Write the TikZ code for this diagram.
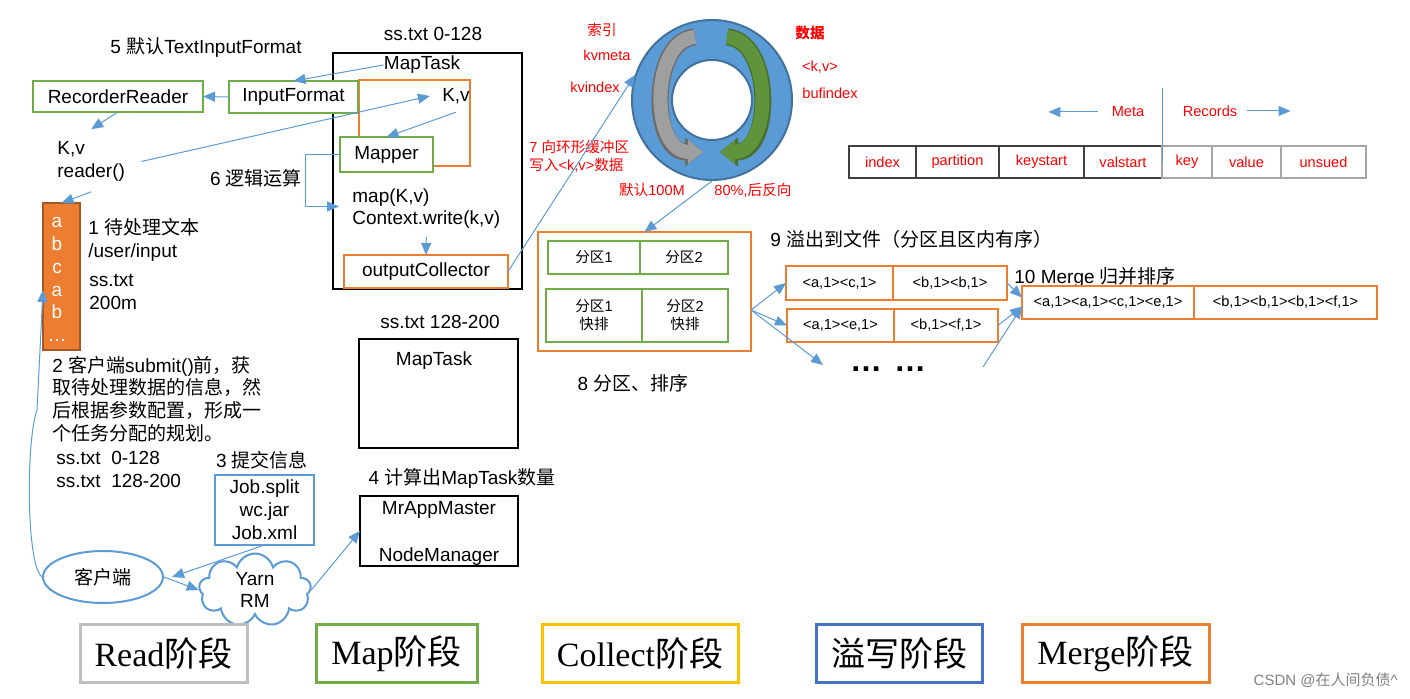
\documentclass[tikz,border=0pt]{standalone}
\usepackage{fontspec}
\setmainfont{Liberation Sans}
\newfontfamily\cjk{Noto Sans CJK SC}
\newfontfamily\serif{Liberation Serif}
\newcommand\zh[1]{{\cjk #1}}
\usetikzlibrary{arrows.meta,positioning,shapes.geometric,shapes.symbols}
\definecolor{lineblue}{HTML}{5B9BD5}
\definecolor{boxorange}{HTML}{ED7D31}
\definecolor{boxgreen}{HTML}{70AD47}
\definecolor{ringedge}{HTML}{41719C}
\definecolor{txtred}{HTML}{FF0000}
\definecolor{gold}{HTML}{FFC000}
\definecolor{legblue}{HTML}{4472C4}
\definecolor{leggray}{HTML}{BFBFBF}
\definecolor{tabdark}{HTML}{404040}
\definecolor{tablight}{HTML}{A6A6A6}
\tikzset{
  txt/.style={inner sep=0pt, font=\fontsize{9.5}{11.4}\selectfont},
  smalltxt/.style={inner sep=0pt, font=\fontsize{7.3}{9}\selectfont},
  redtxt/.style={smalltxt, text=txtred},
  conn/.style={lineblue, line width=0.5pt, -{Triangle[length=6pt,width=5pt]}},
  wh/.style 2 args={minimum width=#1*0.5pt, minimum height=#2*0.5pt},
  kbox/.style={draw=black, line width=1pt, inner sep=0pt, outer sep=0pt},
  gbox/.style={kbox, draw=boxgreen},
  obox/.style={kbox, draw=boxorange},
  cell/.style={smalltxt, text=txtred, draw=#1, line width=0.8pt, outer sep=0pt},
  stage/.style={draw=#1, line width=1.5pt, inner sep=0pt, font=\serif\fontsize{17}{20}\selectfont},
}
\begin{document}
\begin{tikzpicture}[x=0.5pt, y=-0.5pt]
  \useasboundingbox (0,0) rectangle (1410,699);

  \node[txt] (step5) at (206,48) {5 \zh{默认}TextInputFormat};
  \node[txt] (range1) at (433,34) {ss.txt 0-128};
  \node[kbox, wh={189}{236}] (maptask) at (427.5,171) {};
  \node[obox, wh={111}{86}] (kvbox) at (414.5,123) {};
  \node[gbox, txt, fill=white, wh={170}{31}] (recorder) at (118,96.5) {RecorderReader};
  \node[gbox, txt, fill=white, wh={129}{32}] (inputfmt) at (293.5,97) {InputFormat};
  \node[txt] (maplabel) at (422,65) {MapTask};
  \node[txt] (kvtext) at (456,96) {K,v};
  \node[gbox, txt, fill=white, wh={93}{35}] (mapper) at (386.5,154.5) {Mapper};
  \node[txt, anchor=west, align=left] (mapcode) at (352,208.5) {map(K,v)\\Context.write(k,v)};
  \node[obox, txt, wh={164}{33}] (collector) at (426,271.5) {outputCollector};
  \node[txt] (step6) at (256,178) {6 \zh{逻辑运算}};

  \node[txt, anchor=west, align=left] (kvreader) at (57,161.5) {K,v\\reader()};
  \node[kbox, fill=boxorange, draw=boxorange!70!black, wh={37}{147}] (column) at (61.5,276.5) {};
  \node[txt, text=white, align=center, font=\fontsize{9.5}{11.4}\selectfont] (letters) at (57,279.5) {a\\b\\c\\a\\b\\…};
  \node[txt, anchor=west, align=left] (input1) at (88,240) {1 \zh{待处理文本}\\/user/input};
  \node[txt, anchor=west, align=left] (size1) at (89,292) {ss.txt\\200m};
  \node[txt, anchor=west, align=left] (step2) at (52,399) {2 \zh{客户端}submit()\zh{前，获}\\\zh{取待处理数据的信息，然}\\\zh{后根据参数配置，形成一}\\\zh{个任务分配的规划。}};
  \node[txt, anchor=west, align=left] (splits) at (56,469.5) {ss.txt\ \ 0-128\\ss.txt\ \ 128-200};

  \node[txt] (step3) at (262,460) {3 \zh{提交信息}};
  \node[kbox, draw=lineblue, txt, align=center, wh={99}{70}] (jobfiles) at (264.5,510) {Job.split\\wc.jar\\Job.xml};
  \node[ellipse, draw=lineblue, line width=1pt, txt, wh={120}{52}] (client) at (103,577) {\zh{客户端}};
  \node[cloud, cloud puffs=9, aspect=1.9, draw=lineblue, line width=1pt, txt, align=center, wh={112}{58}] (yarn) at (255,590) {Yarn\\RM};
  \node[txt] (step4) at (462,478) {4 \zh{计算出}MapTask\zh{数量}};
  \node[kbox, wh={158}{70}] (appmaster) at (439,531) {};
  \node[txt] (mrapp) at (439,510) {MrAppMaster};
  \node[txt] (nodemgr) at (439,557) {NodeManager};

  \node[txt] (range2) at (440,322) {ss.txt 128-200};
  \node[kbox, wh={159}{109}] (maptask2) at (438.5,393.5) {};
  \node[txt] (maplabel2) at (434,361) {MapTask};

  \node[circle, fill=lineblue, draw=ringedge, line width=1pt, wh={160}{160}] (ring) at (712,100) {};
  \node[circle, fill=white, draw=ringedge, line width=1pt, wh={80}{80}] (hole) at (712,100) {};
  \draw[gray!85!black, line width=8.5pt, -{Triangle[length=9pt,width=14pt]}] (695,37) .. controls (650,40) and (650,152) .. (703,152);
  \draw[gray!75, line width=7pt, -{Triangle[length=7.5pt,width=11.5pt]}] (695,37) .. controls (650,40) and (650,152) .. (703,152);
  \draw[boxgreen!65!black, line width=8.5pt, -{Triangle[length=9pt,width=14pt]}] (727,37) .. controls (773,40) and (773,152) .. (720,152);
  \draw[boxgreen!85!black, line width=7pt, -{Triangle[length=7.5pt,width=11.5pt]}] (727,37) .. controls (773,40) and (773,152) .. (720,152);

  \node[redtxt] (idxlabel) at (602,30) {\zh{索引}};
  \node[redtxt] (kvmeta) at (607,55) {kvmeta};
  \node[redtxt] (kvindex) at (595,87) {kvindex};
  \node[redtxt, font=\bfseries\fontsize{7.3}{9}\selectfont] (datalabel) at (810,33) {\zh{数据}};
  \node[redtxt] (kvpair) at (820,67) {<k,v>};
  \node[redtxt] (bufindex) at (830,93) {bufindex};
  \node[redtxt] (size100) at (652,190) {\zh{默认}100M};
  \node[redtxt] (reverse) at (753,190) {80\%,\zh{后反向}};
  \node[redtxt, anchor=west, align=left] (step7) at (529,156) {7 \zh{向环形缓冲区}\\\zh{写入}<k,v>\zh{数据}};

  \node[cell=tabdark, wh={67}{32}] (tindex) at (882.5,162) {index};
  \node[cell=tabdark, wh={83}{32}, right=0pt of tindex] (tpart) {partition};
  \node[cell=tabdark, wh={85}{32}, right=0pt of tpart] (tkeystart) {keystart};
  \node[cell=tabdark, wh={78}{32}, right=0pt of tkeystart] (tvalstart) {valstart};
  \node[cell=tablight, wh={50}{32}, right=0pt of tvalstart] (tkey) {key};
  \node[cell=tablight, wh={69}{32}, right=0pt of tkey] (tvalue) {value};
  \node[cell=tablight, wh={85}{32}, right=0pt of tvalue] (tunused) {unsued};
  \node[redtxt] (meta) at (1128,112) {Meta};
  \node[redtxt] (records) at (1210,111) {Records};

  \node[obox, wh={213}{119}] (sortbox) at (644.5,291.5) {};
  \node[gbox, smalltxt, wh={92}{33}] (part1) at (594,257.5) {\zh{分区}1};
  \node[gbox, smalltxt, wh={88}{33}, right=0pt of part1] (part2) {\zh{分区}2};
  \node[gbox, smalltxt, align=center, wh={96}{53}] (sort1) at (594,315.5) {\zh{分区}1\\\zh{快排}};
  \node[gbox, smalltxt, align=center, wh={86}{53}, right=0pt of sort1] (sort2) {\zh{分区}2\\\zh{快排}};
  \node[txt] (step8) at (633,383) {8 \zh{分区、排序}};
  \node[txt, anchor=west] (step9) at (770,239) {9 \zh{溢出到文件（分区且区内有序）}};

  \node[obox, smalltxt, wh={107}{34}] (spill11) at (839.5,283) {<a,1><c,1>};
  \node[obox, smalltxt, wh={114}{34}, right=0pt of spill11] (spill12) {<b,1><b,1>};
  \node[obox, smalltxt, wh={107}{33}] (spill21) at (840.5,325.5) {<a,1><e,1>};
  \node[obox, smalltxt, wh={104}{33}, right=0pt of spill21] (spill22) {<b,1><f,1>};
  \node[inner sep=0pt, anchor=base, font=\bfseries\fontsize{16}{16}\selectfont] (dots) at (888,372) {…\hspace{6pt}…};
  \coordinate (fanout) at ([yshift=-9.25pt]sortbox.east);
  \coordinate (morein) at (823,365);
  \coordinate (moreout) at (983,367);

  \node[txt, anchor=west] (step10) at (1014,277) {10 Merge \zh{归并排序}};
  \node[obox, smalltxt, wh={172}{33}] (merge1) at (1108,302.5) {<a,1><a,1><c,1><e,1>};
  \node[obox, smalltxt, wh={183}{33}, right=0pt of merge1] (merge2) {<b,1><b,1><b,1><f,1>};

  \node[stage=leggray, wh={167}{58}] (readstage) at (163.5,654) {Read\zh{阶段}};
  \node[stage=boxgreen, wh={161}{58}] (mapstage) at (396.5,654) {Map\zh{阶段}};
  \node[stage=gold, wh={196}{58}] (collectstage) at (640,654) {Collect\zh{阶段}};
  \node[stage=legblue, wh={166}{58}] (spillstage) at (899.5,654) {\zh{溢写阶段}};
  \node[stage=boxorange, wh={187}{58}] (mergestage) at (1115.5,654) {Merge\zh{阶段}};
  \node[inner sep=0pt, anchor=east, text=gray, font=\fontsize{7.5}{9}\selectfont] (csdn) at (1398,680) {CSDN @\zh{在人间负债}\textasciicircum};

  \draw[conn] (maplabel.west) -- (inputfmt.north);
  \draw[conn] (inputfmt.west) -- (recorder.east);
  \draw[conn] (recorder.south) -- ([yshift=6pt]kvreader.north);
  \draw[conn] ([xshift=8pt]kvreader.east) -- ([xshift=-6pt]kvtext.west);
  \draw[conn] ([yshift=-4pt]kvtext.south) -- (mapper.north);
  \draw[conn] ([yshift=-5pt]kvreader.south) -- (column.north);
  \draw[conn] (mapper.west) -- ++(-35,0) |- ([xshift=-6.5pt, yshift=1pt]mapcode.west);
  \draw[conn] ([yshift=-4pt]mapcode.south) -- (collector.north);
  \draw[conn] (collector.east) -- (ring.162);
  \draw[conn] (ring.south) -- (sortbox.north);

  \draw[conn] (jobfiles.south) -- ([xshift=4pt]client.east);
  \draw[conn] (client.east) -- (yarn.west);
  \draw[conn] (yarn.east) -- (appmaster.west);
  \draw[conn] (client.west) .. controls (26,565) and (26,440) .. (37,410) -- ([yshift=30pt]column.south west);

  \draw[conn] ([xshift=-6.5pt]meta.west) -- ++(-50,0);
  \draw[conn] ([xshift=4.5pt]records.east) -- ++(44,0);
  \draw[lineblue, line width=0.5pt] (tkey.west) -- ++(0,-74);

  \draw[conn] (fanout) -- (spill11.west);
  \draw[conn] (fanout) -- (spill21.west);
  \draw[conn] (fanout) -- (morein);
  \draw[conn] (spill12.east) -- ([yshift=2.5pt]merge1.west);
  \draw[conn] (spill22.east) -- ([yshift=-2pt]merge1.west);
  \draw[conn] (moreout) -- ([yshift=-2pt]merge1.west);
\end{tikzpicture}
\end{document}
